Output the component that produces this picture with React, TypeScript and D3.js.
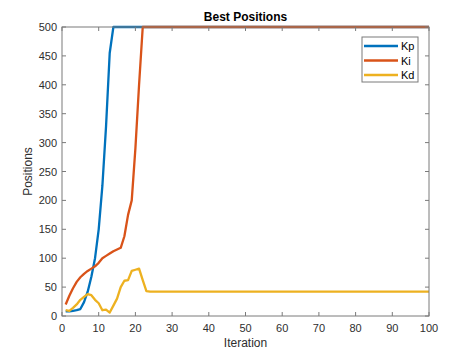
import React from "react";
import * as d3 from "d3";

const KP_HEAD = [8, 8, 9, 10, 12, 24, 42, 68, 100, 150, 225, 328, 455, 500];
const KI_HEAD = [20, 35, 48, 59, 67, 73, 78, 82, 86, 92, 100, 104, 108, 112, 115, 118, 138, 175, 200, 290, 400, 500];
const KD_HEAD = [10, 9, 14, 20, 28, 33, 38, 36, 28, 22, 10, 11, 6, 18, 30, 50, 61, 62, 78, 80, 82, 62, 43, 42];
// Values after the listed head stay at the final read value until iteration 100
const KP_TAIL = 500;
const KI_TAIL = 500;
const KD_TAIL = 42;

const seriesNames = ["Kp", "Ki", "Kd"];
const colors = ["#0072BD", "#D95319", "#EDB120"];
const xTicks = [0, 10, 20, 30, 40, 50, 60, 70, 80, 90, 100];
const yTicks = [0, 50, 100, 150, 200, 250, 300, 350, 400, 450, 500];

function toPoints(head: number[], tail: number): [number, number][] {
  const pts: [number, number][] = head.map((v, i) => [i + 1, v]);
  pts.push([100, tail]);
  return pts;
}

export default function App() {
  const W = 474, H = 355;
  const L = 62, R = 429, T = 27, B = 316;
  const x = d3.scaleLinear().domain([0, 100]).range([L, R]);
  const y = d3.scaleLinear().domain([0, 500]).range([B, T]);
  const line = d3.line<[number, number]>().x(d => x(d[0])).y(d => y(d[1]));
  const data = [toPoints(KP_HEAD, KP_TAIL), toPoints(KI_HEAD, KI_TAIL), toPoints(KD_HEAD, KD_TAIL)];
  const axisColor = "#7a7a7a";
  const textColor = "#2e2e2e";
  const font = "'Liberation Sans', Arial, Helvetica, sans-serif";
  const tl = 4;
  return (
    <svg width={W} height={H} style={{ position: "absolute", left: 0, top: 0, background: "#fff" }} fontFamily={font}>
      <rect x={0} y={0} width={W} height={H} fill="#fff" />
      <clipPath id="clip"><rect x={L - 2} y={T - 2} width={R - L + 4} height={B - T + 4} /></clipPath>
      <g clipPath="url(#clip)">
        {data.map((d, i) => (
          <path key={i} d={line(d) || ""} fill="none" stroke={colors[i]} strokeWidth={2.3} strokeLinejoin="round" />
        ))}
      </g>
      <rect x={L} y={T} width={R - L} height={B - T} fill="none" stroke={axisColor} strokeWidth={1} />
      {xTicks.map(t => (
        <g key={"x" + t}>
          <line x1={x(t)} x2={x(t)} y1={B} y2={B - tl} stroke={axisColor} strokeWidth={1} />
          <line x1={x(t)} x2={x(t)} y1={T} y2={T + tl} stroke={axisColor} strokeWidth={1} />
          <text x={x(t)} y={332} textAnchor="middle" fontSize={11} fill={textColor}>{t}</text>
        </g>
      ))}
      {yTicks.map(t => (
        <g key={"y" + t}>
          <line x1={L} x2={L + tl} y1={y(t)} y2={y(t)} stroke={axisColor} strokeWidth={1} />
          <line x1={R} x2={R - tl} y1={y(t)} y2={y(t)} stroke={axisColor} strokeWidth={1} />
          <text x={57} y={y(t) + 4} textAnchor="end" fontSize={11} fill={textColor}>{t}</text>
        </g>
      ))}
      <text x={(L + R) / 2} y={347} textAnchor="middle" fontSize={12} fill={textColor}>Iteration</text>
      <text transform={`translate(32,${(T + B) / 2}) rotate(-90)`} textAnchor="middle" fontSize={12} fill={textColor}>Positions</text>
      <text x={(L + R) / 2} y={21} textAnchor="middle" fontSize={12} fontWeight="bold" fill="#000">Best Positions</text>
      <g>
        <rect x={362} y={37} width={56} height={45} fill="#fff" stroke={axisColor} strokeWidth={1} />
        {seriesNames.map((n, i) => (
          <g key={n}>
            <line x1={364} x2={398} y1={46 + i * 14.5} y2={46 + i * 14.5} stroke={colors[i]} strokeWidth={2.3} />
            <text x={401} y={46 + i * 14.5 + 4} fontSize={11} fill="#000">{n}</text>
          </g>
        ))}
      </g>
    </svg>
  );
}
